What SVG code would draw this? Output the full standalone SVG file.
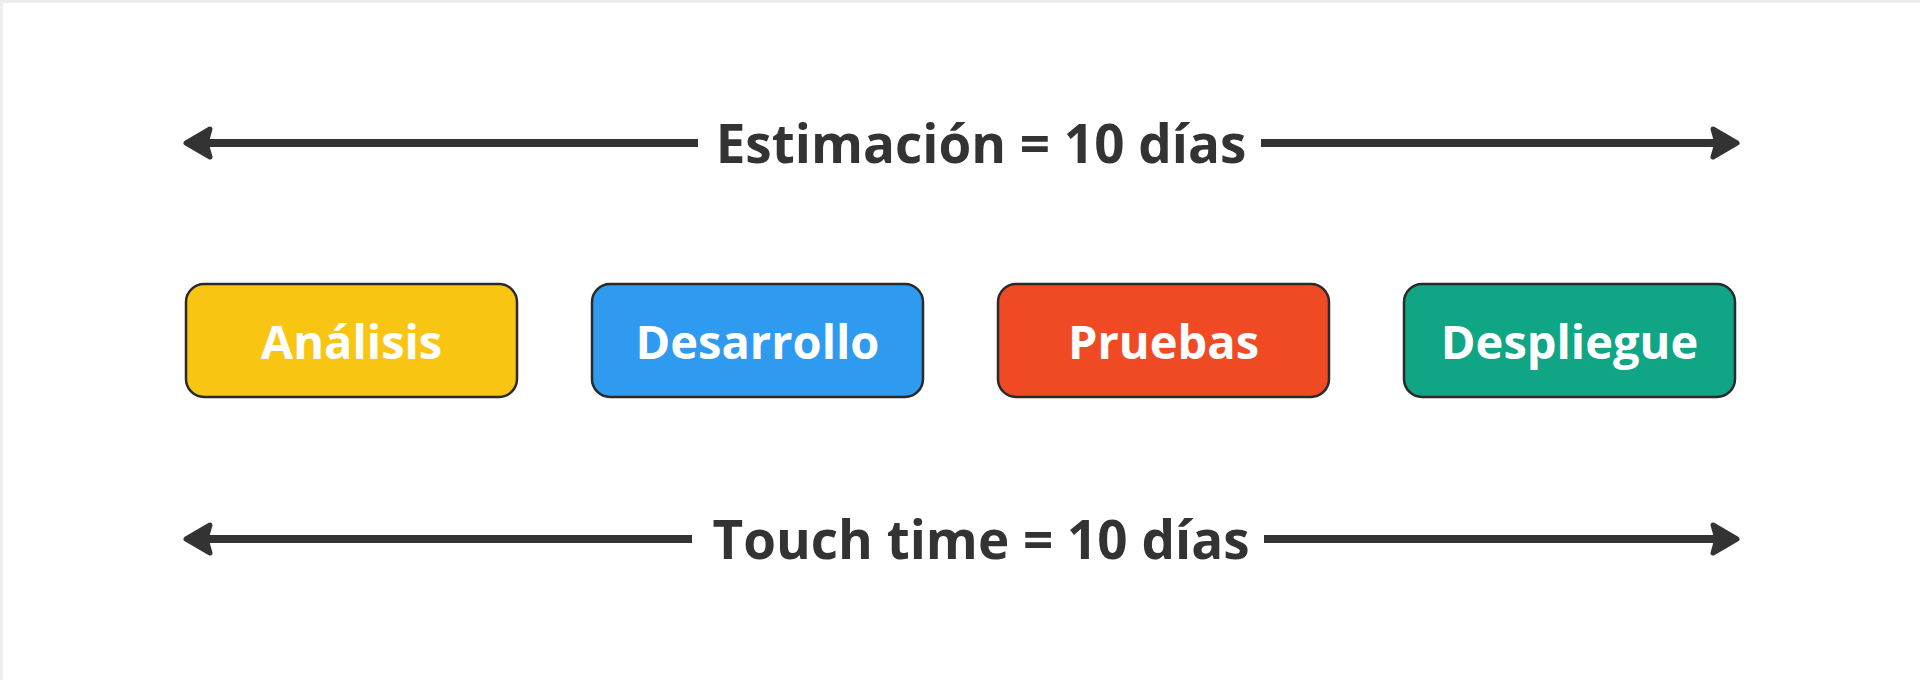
<svg xmlns="http://www.w3.org/2000/svg" xmlns:xlink="http://www.w3.org/1999/xlink" width="1920" height="680" viewBox="0 0 1920 680">
<style>
.box{stroke:#2a2a2a;stroke-width:2.5}
.lbl{font-family:"Open Sans","Liberation Sans",sans-serif;font-weight:700;font-size:47px;fill:#ffffff;text-anchor:middle;dominant-baseline:central}
.dim{font-family:"Open Sans","Liberation Sans",sans-serif;font-weight:700;font-size:53px;fill:#333333;text-anchor:middle}
.shaft{stroke:#333333;stroke-width:8;fill:none}
.head{fill:#333333;stroke:#333333;stroke-width:5;stroke-linejoin:round}
</style>
<defs>
<path id="head" class="head" d="M0,0 L-24,-14 L-20,0 L-24,14 Z"/>
</defs>
<rect width="1920" height="680" fill="#ffffff"/>
<path d="M1.5,680 V1.5 H1920" fill="none" stroke="#ededed" stroke-width="3"/>
<g id="connectors">
<line class="shaft" x1="195" y1="143" x2="698" y2="143"/>
<line class="shaft" x1="1261" y1="143" x2="1728" y2="143"/>
<use xlink:href="#head" transform="translate(1737,143)"/>
<use xlink:href="#head" transform="translate(186,143) scale(-1,1)"/>
<line class="shaft" x1="195" y1="539" x2="692" y2="539"/>
<line class="shaft" x1="1264" y1="539" x2="1728" y2="539"/>
<use xlink:href="#head" transform="translate(1737,539)"/>
<use xlink:href="#head" transform="translate(186,539) scale(-1,1)"/>
</g>
<g id="label-estimacion">
<text class="dim" x="981" y="163">Estimación = 10 días</text>
</g>
<g id="label-touch">
<text class="dim" x="981" y="559">Touch time = 10 días</text>
</g>
<g id="node-analisis">
<rect class="box" x="186" y="284" width="331" height="113" rx="18" fill="#F9C513"/>
<text class="lbl" x="351.5" y="341">Análisis</text>
</g>
<g id="node-desarrollo">
<rect class="box" x="592" y="284" width="331" height="113" rx="18" fill="#2E9BF0"/>
<text class="lbl" x="757.5" y="341">Desarrollo</text>
</g>
<g id="node-pruebas">
<rect class="box" x="998" y="284" width="331" height="113" rx="18" fill="#F04A25"/>
<text class="lbl" x="1163.5" y="341">Pruebas</text>
</g>
<g id="node-despliegue">
<rect class="box" x="1404" y="284" width="331" height="113" rx="18" fill="#0FA585"/>
<text class="lbl" x="1569.5" y="341">Despliegue</text>
</g>
</svg>
